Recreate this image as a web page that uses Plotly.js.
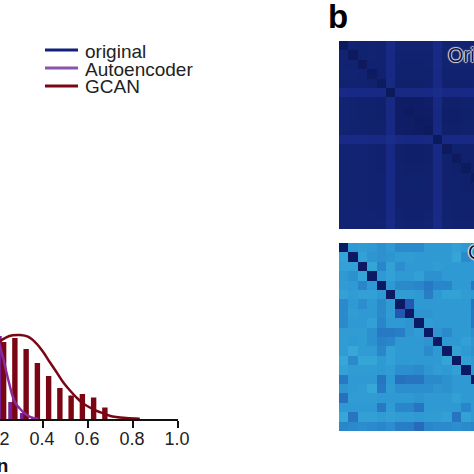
<!DOCTYPE html>
<html><head><meta charset="utf-8">
<script src="https://cdn.plot.ly/plotly-3.0.1.min.js"></script>
<style>html,body{margin:0;padding:0;background:#fff;overflow:hidden;width:474px;height:474px}
#chart{position:absolute;left:-60px;top:0;width:590px;height:474px}</style>
</head><body><div id="chart"></div>
<script>
const gcanBarX = [0.225,0.275,0.325,0.375,0.425,0.475,0.525,0.575,0.625,0.675];
const gcanBarY = [0.77,0.81,0.70,0.56,0.43,0.31,0.235,0.25,0.215,0.115];
const aeBarX = [0.205,0.257,0.309,0.359];
const aeBarY = [0.83,0.17,0.06,0.01];
const gcanCurveX = [0.14,0.16,0.18,0.207,0.237,0.266,0.299,0.333,0.37,0.4,0.429,0.459,0.488,0.518,0.548,0.577,0.607,0.636,0.666,0.696,0.725,0.77,0.83];
const gcanCurveY = [0.4,0.52,0.63,0.77,0.817,0.837,0.84,0.823,0.757,0.673,0.573,0.473,0.373,0.29,0.217,0.157,0.117,0.083,0.057,0.033,0.02,0.01,0.003];
const aeCurveX = [0.15,0.17,0.19,0.21,0.225,0.237,0.2515,0.266,0.281,0.296,0.318,0.34,0.362,0.38];
const aeCurveY = [1.5,1.3,1.0,0.72,0.59,0.47,0.34,0.22,0.147,0.107,0.057,0.023,0.007,0];
const legendNames = ["original","Autoencoder","GCAN"];
const legendColors = ["#14207c","#8a55b0","#7a0614"];
const xTicks = [0,0.2,0.4,0.6,0.8,1.0];
const originalMatrix = [
[0.05,.32,.30,.33,.31,.60,.33,.32,.32,.33,.62,.34,.33,.34,.33,.34,.33,.34,.34,.34],
[.32,0.08,.30,.32,.30,.58,.30,.30,.30,.31,.60,.32,.33,.33,.34,.33,.33,.33,.34,.34],
[.30,.30,0.08,.30,.30,.58,.28,.28,.28,.30,.60,.32,.32,.33,.33,.33,.32,.33,.33,.34],
[.33,.32,.30,0.10,.28,.56,.26,.26,.26,.28,.58,.30,.30,.30,.31,.30,.31,.31,.32,.33],
[.31,.30,.30,.28,0.10,.54,.24,.24,.24,.26,.56,.28,.28,.28,.30,.30,.30,.30,.31,.32],
[.60,.58,.58,.56,.54,0.02,.54,.54,.54,.56,.78,.58,.58,.58,.58,.58,.58,.58,.58,.60],
[.33,.30,.28,.26,.24,.54,0.15,.16,.16,.18,.54,.24,.24,.26,.28,.28,.28,.28,.30,.32],
[.32,.30,.28,.26,.24,.54,.16,0.12,.15,.16,.52,.22,.22,.24,.26,.26,.26,.28,.28,.30],
[.32,.30,.28,.26,.24,.54,.16,.15,0.10,.14,.52,.22,.22,.24,.26,.26,.26,.28,.28,.30],
[.33,.31,.30,.28,.26,.56,.18,.16,.14,0.08,.54,.24,.24,.26,.28,.28,.28,.28,.30,.32],
[.62,.60,.60,.58,.56,.78,.54,.52,.52,.54,0.02,.56,.56,.58,.58,.58,.58,.60,.60,.60],
[.34,.32,.32,.30,.28,.58,.24,.22,.22,.24,.56,0.08,.26,.28,.28,.28,.28,.30,.30,.32],
[.33,.33,.32,.30,.28,.58,.24,.22,.22,.24,.56,.26,0.08,.24,.26,.26,.26,.28,.28,.30],
[.34,.33,.33,.30,.28,.58,.26,.24,.24,.26,.58,.28,.24,0.06,.24,.24,.26,.26,.28,.30],
[.33,.34,.33,.31,.30,.58,.28,.26,.26,.28,.58,.28,.26,.24,0.06,.22,.24,.26,.28,.30],
[.34,.33,.33,.30,.30,.58,.28,.26,.26,.28,.58,.28,.26,.24,.22,0.08,.24,.26,.28,.30],
[.33,.33,.32,.31,.30,.58,.28,.26,.26,.28,.58,.28,.26,.26,.24,.24,0.08,.26,.28,.30],
[.34,.33,.33,.31,.30,.58,.28,.28,.28,.28,.60,.30,.28,.26,.26,.26,.26,0.08,.28,.30],
[.34,.34,.33,.32,.31,.58,.30,.28,.28,.30,.60,.30,.28,.28,.28,.28,.28,.28,0.08,.32],
[.34,.34,.34,.33,.32,.60,.32,.30,.30,.32,.60,.32,.30,.30,.30,.30,.30,.30,.32,0.10]
];
const gcanMatrix = [
[1,.2,.18,.2,.25,.2,.28,.28,.28,.2,.2,.2,.16,.2,.2,.2,.3,.2,.14,.3],
[.12,1,.14,.22,.24,.22,.18,.18,.2,.2,.2,.2,.12,.28,.2,.2,.2,.2,.3,.28],
[.14,.14,1,.12,.3,.14,.26,.2,.2,.2,.18,.2,.2,.2,.2,.2,.2,.2,.2,.26],
[.2,.24,.12,1,.2,.14,.2,.2,.16,.24,.24,.2,.2,.2,.2,.1,.2,.2,.18,.28],
[.18,.2,.3,.2,1,.2,.28,.28,.3,.36,.3,.3,.2,.2,.36,.34,.2,.34,.2,.3],
[.14,.18,.16,.16,.2,1,.18,.18,.2,.34,.2,.14,.14,.18,.2,.2,.2,.2,.16,.26],
[.28,.2,.26,.2,.28,.18,1,.5,.2,.2,.2,.2,.2,.2,.38,.26,.2,.3,.2,.32],
[.28,.18,.2,.2,.28,.18,.5,1,.22,.22,.2,.2,.2,.2,.36,.26,.2,.3,.2,.32],
[.28,.2,.2,.16,.3,.2,.2,.22,1,.18,.2,.2,.2,.2,.36,.26,.2,.36,.2,.42],
[.18,.18,.18,.24,.36,.36,.34,.22,.18,1,.22,.28,.2,.2,.26,.24,.2,.2,.2,.3],
[.18,.2,.18,.24,.32,.3,.2,.2,.2,.22,1,.2,.2,.16,.22,.2,.2,.2,.18,.28],
[.18,.1,.18,.18,.3,.14,.2,.2,.2,.28,.2,1,.14,.2,.24,.24,.2,.2,.2,.28],
[.1,.28,.12,.12,.2,.14,.2,.2,.2,.2,.2,.12,1,.16,.2,.2,.16,.2,.2,.26],
[.14,.18,.18,.18,.2,.18,.26,.26,.28,.22,.18,.2,.14,1,.2,.2,.2,.2,.2,.28],
[.36,.2,.2,.2,.38,.2,.4,.38,.38,.28,.28,.24,.2,.2,1,.2,.2,.2,.2,.3],
[.22,.2,.18,.1,.36,.18,.26,.26,.26,.26,.22,.24,.2,.2,.2,1,.2,.2,.2,.28],
[.4,.18,.18,.18,.2,.2,.2,.2,.22,.2,.2,.2,.16,.2,.2,.2,1,.2,.2,.28],
[.2,.2,.2,.2,.36,.18,.3,.3,.38,.2,.2,.2,.2,.3,.2,.2,.2,1,.2,.28],
[.1,.38,.16,.16,.18,.16,.18,.18,.2,.18,.18,.16,.38,.14,.2,.2,.2,.2,1,.26],
[.3,.28,.26,.28,.3,.26,.34,.34,.42,.3,.28,.28,.26,.28,.3,.28,.28,.28,.26,1]
];

const W = 590, H = 474, OFF = 60;
const px = v => (v + OFF) / W;
const py = v => 1 - v / H;

const traces = [
  {type:'bar', x:aeBarX, y:aeBarY, width:0.023, marker:{color:'#7a1f96'}, name:'Autoencoder', showlegend:false, hoverinfo:'skip'},
  {type:'bar', x:gcanBarX, y:gcanBarY, width:0.024, marker:{color:'#7a0614'}, name:'GCAN', showlegend:false, hoverinfo:'skip'},
  {type:'scatter', mode:'lines', x:aeCurveX, y:aeCurveY, line:{color:'#8a2a9e', width:2.5, shape:'spline'}, showlegend:false, hoverinfo:'skip'},
  {type:'scatter', mode:'lines', x:gcanCurveX, y:gcanCurveY, line:{color:'#7a0614', width:2.5, shape:'spline'}, showlegend:false, hoverinfo:'skip'},
  {type:'heatmap', z:originalMatrix, xaxis:'x2', yaxis:'y2', zmin:0, zmax:1, showscale:false, hoverinfo:'skip',
   colorscale:[[0,'#0b1958'],[0.15,'#0e1d64'],[0.3,'#112270'],[0.55,'#172984'],[0.8,'#1a2d8a'],[1,'#1a2d8a']]},
  {type:'heatmap', z:gcanMatrix, xaxis:'x3', yaxis:'y3', zmin:0, zmax:1, showscale:false, hoverinfo:'skip',
   colorscale:[[0,'#3cabd8'],[0.1,'#37a7d8'],[0.2,'#2f99d3'],[0.3,'#2a86ca'],[0.4,'#2670be'],[0.5,'#2458b0'],[1,'#0c1a63']]}
];

const hidden = {visible:false, fixedrange:true};
const layout = {
  width:W, height:H, margin:{l:0,r:0,t:0,b:0}, paper_bgcolor:'#fff', plot_bgcolor:'rgba(0,0,0,0)',
  barmode:'overlay', showlegend:false,
  font:{family:'"Liberation Sans", Arial, sans-serif', color:'#222'},
  xaxis:{domain:[px(-47),px(178)], range:[0,1], tickmode:'array', tickvals:xTicks, ticktext:xTicks.map(v=>v.toFixed(1)),
         ticks:'outside', ticklen:7, tickwidth:1.5, tickcolor:'#111', showline:true, linecolor:'#111', linewidth:1.5,
         showgrid:false, zeroline:false, tickfont:{size:18,color:'#222'}, anchor:'y', ticklabelstandoff:-4, ticklabelshift:-1},
  yaxis:{domain:[py(419),py(19)], range:[0,4], visible:false, anchor:'x'},
  xaxis2:Object.assign({domain:[px(339),px(527)], range:[-0.5,19.5], anchor:'y2'},hidden),
  yaxis2:Object.assign({domain:[py(229),py(41)], range:[19.5,-0.5], anchor:'x2'},hidden),
  xaxis3:Object.assign({domain:[px(339),px(527)], range:[-0.5,19.5], anchor:'y3'},hidden),
  yaxis3:Object.assign({domain:[py(431),py(243)], range:[19.5,-0.5], anchor:'x3'},hidden),
  shapes:legendNames.map((n,i)=>({type:'line', xref:'paper', yref:'paper',
    x0:px(45), x1:px(78), y0:py([50,68,86][i]), y1:py([50,68,86][i]),
    line:{color:legendColors[i], width:3}})),
  annotations:[
    ...legendNames.map((n,i)=>({xref:'paper', yref:'paper', x:px(83), y:py([51,69,87][i]), text:n, showarrow:false,
      xanchor:'left', yanchor:'middle', font:{size:19, color:'#222'}})),
    {xref:'paper', yref:'paper', x:px(10), y:py(465), text:'<b>Correlation</b>', showarrow:false, xanchor:'right', yanchor:'middle', font:{size:19,color:'#111'}},
    {xref:'paper', yref:'paper', x:px(326), y:py(16), text:'<b>b</b>', showarrow:false, xanchor:'left', yanchor:'middle', font:{size:33,color:'#000'}},
    {xref:'paper', yref:'paper', x:px(446), y:py(55), text:'Original', showarrow:false, xanchor:'left', yanchor:'middle',
      font:{size:20,color:'#10164a',shadow:'1px 0 1px #ddd, -1px 0 1px #ddd, 0 1px 1px #ddd, 0 -1px 1px #ddd'}},
    {xref:'paper', yref:'paper', x:px(466), y:py(252), text:'GCAN', showarrow:false, xanchor:'left', yanchor:'middle',
      font:{size:20,color:'#0a0f30',shadow:'1px 0 1px #f4f4f4, -1px 0 1px #f4f4f4, 0 1px 1px #f4f4f4, 0 -1px 1px #f4f4f4'}}
  ]
};
Plotly.newPlot('chart', traces, layout, {displayModeBar:false, staticPlot:true});
</script></body></html>
